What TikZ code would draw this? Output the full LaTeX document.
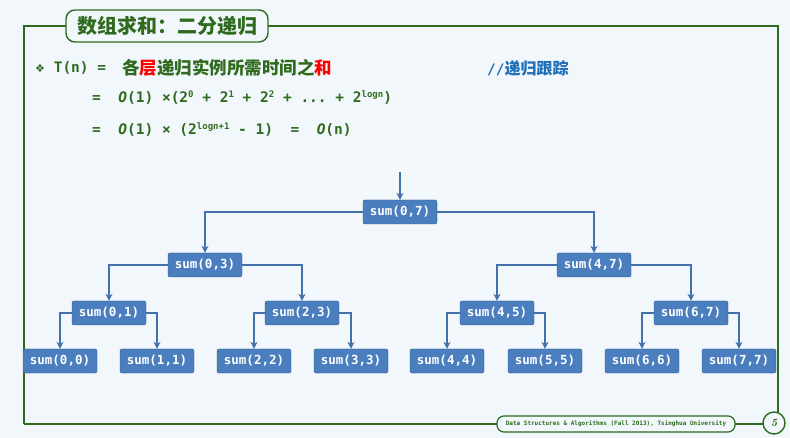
\documentclass[tikz,border=0pt]{standalone}
\usepackage{fontspec}
\usetikzlibrary{arrows.meta}
\setmonofont{DejaVu Sans Mono}
\newfontfamily\cjk{Noto Sans CJK SC}
\newfontfamily\djv{DejaVu Sans}
\definecolor{grn}{HTML}{2E6B1E}
\definecolor{bluebox}{HTML}{4A7EBF}
\definecolor{bg}{HTML}{F2F7FC}
\definecolor{cm}{HTML}{1F6FB8}
\newcommand{\sps}[1]{\raisebox{5pt}{\fontsize{9}{10}\selectfont #1}}
\begin{document}
\begin{tikzpicture}[x=1pt,y=-1pt,
  sn/.style={draw=bluebox!70!black,fill=bluebox,text=white,rounded corners=2pt,minimum width=74pt,minimum height=24pt,font=\ttfamily\bfseries\fontsize{12.5}{14}\selectfont,inner sep=1pt},
  ed/.style={draw=bluebox!90!black,line width=1.3pt,-{Stealth[length=7pt,width=7pt]}},
  tx/.style={text=grn,font=\ttfamily\bfseries\fontsize{14.5}{17}\selectfont,anchor=west,inner sep=0}]
\fill[bg] (0,0) rectangle (790,438);
\useasboundingbox (0,0) rectangle (790,438);
\draw[grn,line width=1.4pt] (24,424) -- (24,26) -- (778,26) -- (778,424) -- (24,424);
\node[draw=grn,line width=1.4pt,fill=bg,rounded corners=9pt,minimum width=202pt,minimum height=32pt,font=\cjk\bfseries\fontsize{20}{24}\selectfont,text=grn] (title) at (167,26) {数组求和：二分递归};
\node[draw=grn,line width=1.2pt,fill=bg,rounded corners=7pt,minimum width=238pt,minimum height=16pt,font=\ttfamily\bfseries\fontsize{6}{7}\selectfont,text=grn] (foot) at (616,424) {Data Structures \& Algorithms (Fall 2013), Tsinghua University};
\node[circle,draw=grn,line width=1.4pt,fill=bg,minimum size=22pt,inner sep=0,font=\bfseries\itshape\fontsize{11}{12}\selectfont,text=grn] (pg) at (774,423) {5};
\node[tx] (l1) at (35,68) {{\djv\fontsize{11}{12}\selectfont ❖} T(n) =};
\node[tx,font=\cjk\bfseries\fontsize{17.5}{20}\selectfont] (l1b) at (122,68) {各\textcolor{red}{层}递归实例所需时间之\textcolor{red}{和}};
\node[tx,text=cm] (cmt) at (487,68) {//{\cjk\fontsize{16}{18}\selectfont 递归跟踪}};
\node[tx] (l2) at (92,98) {=\ \ \textit{O}(1) ×(2\sps{0} + 2\sps{1} + 2\sps{2} + ... + 2\sps{logn})};
\node[tx] (l3) at (92,130) {=\ \ \textit{O}(1) × (2\sps{logn+1} - 1)\ \ = \ \textit{O}(n)};
\node[sn] (a) at (400,212) {sum(0,7)};
\node[sn] (b0) at (205,265) {sum(0,3)};
\node[sn] (b1) at (594,265) {sum(4,7)};
\node[sn] (c0) at (109,313) {sum(0,1)};
\node[sn] (c1) at (302,313) {sum(2,3)};
\node[sn] (c2) at (497,313) {sum(4,5)};
\node[sn] (c3) at (691,313) {sum(6,7)};
\foreach \i/\x/\t in {0/60/{0,0},1/157/{1,1},2/254/{2,2},3/351/{3,3},4/447/{4,4},5/545/{5,5},6/642/{6,6},7/739/{7,7}}
  \node[sn] (d\i) at (\x,361) {sum(\t)};
\coordinate (top) at (400,172);
\draw[ed] (top) -- (a);
\draw[ed] (a.west) -| (b0.north);
\draw[ed] (a.east) -| (b1.north);
\draw[ed] (b0.west) -| (c0.north);
\draw[ed] (b0.east) -| (c1.north);
\draw[ed] (b1.west) -| (c2.north);
\draw[ed] (b1.east) -| (c3.north);
\draw[ed] (c0.west) -| (d0.north);
\draw[ed] (c0.east) -| (d1.north);
\draw[ed] (c1.west) -| (d2.north);
\draw[ed] (c1.east) -| (d3.north);
\draw[ed] (c2.west) -| (d4.north);
\draw[ed] (c2.east) -| (d5.north);
\draw[ed] (c3.west) -| (d6.north);
\draw[ed] (c3.east) -| (d7.north);
\end{tikzpicture}
\end{document}
